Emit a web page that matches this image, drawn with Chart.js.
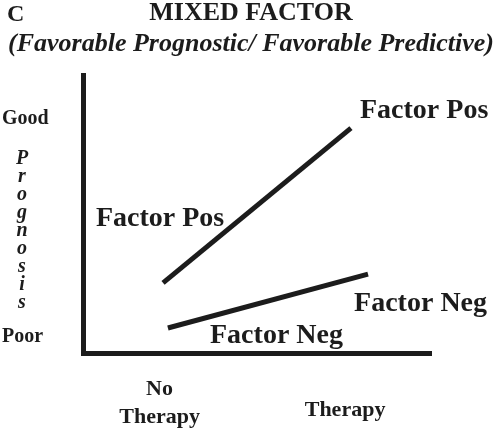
<!DOCTYPE html>
<html><head><meta charset="utf-8">
<script src="https://cdn.jsdelivr.net/npm/chart.js@4/dist/chart.umd.min.js"></script>
<style>html,body{margin:0;padding:0;background:#fff;}</style>
</head><body>
<canvas id="c" width="500" height="430"></canvas>
<script>
const panelLetter = 'C';
const chartTitle = 'MIXED FACTOR';
const chartSubtitle = '(Favorable Prognostic/ Favorable Predictive)';
const yAxisTitle = 'Prognosis';
const seriesNames = ['Factor Pos', 'Factor Neg'];
const factorPosX = [2.30, 7.70];
const factorPosY = [2.52, 8.09];
const factorNegX = [2.44, 8.19];
const factorNegY = [0.90, 2.84];
const xTickLabels = [['No', 'Therapy'], 'Therapy'];
const xTickValues = [2.20, 7.53];
const yTickLabels = ['Good', 'Poor'];
const yTickValues = [8.44, 0.59];

const INK = '#1c1c1c';
const SERIF = "'Liberation Serif', 'Times New Roman', serif";

const toPts = (xs, ys) => xs.map((x, i) => ({x: x, y: ys[i]}));

const textPlugin = {
  id: 'textPlugin',
  afterDraw(chart, args, opts) {
    const ctx = chart.ctx;
    const xs = chart.scales.x, ys = chart.scales.y;
    ctx.save();
    ctx.fillStyle = INK;
    // panel letter
    ctx.font = 'bold 24px ' + SERIF;
    ctx.textAlign = 'left';
    ctx.textBaseline = 'alphabetic';
    ctx.fillText(panelLetter, 7, 21);
    // stacked axis title
    ctx.font = 'italic bold 20px ' + SERIF;
    ctx.textAlign = 'center';
    const chars = yAxisTitle.split('');
    chars.forEach((ch, i) => ctx.fillText(ch, 22, 164 + i * 18));
    // series labels
    ctx.font = 'bold 28px ' + SERIF;
    ctx.textAlign = 'left';
    opts.labels.forEach(l => {
      ctx.fillText(l.text, xs.getPixelForValue(l.x), ys.getPixelForValue(l.y));
    });
    ctx.restore();
  }
};

new Chart(document.getElementById('c'), {
  type: 'scatter',
  data: {
    datasets: [
      {label: seriesNames[0], data: toPts(factorPosX, factorPosY), showLine: true,
       borderColor: INK, borderWidth: 5, pointRadius: 0, borderCapStyle: 'butt'},
      {label: seriesNames[1], data: toPts(factorNegX, factorNegY), showLine: true,
       borderColor: INK, borderWidth: 5, pointRadius: 0, borderCapStyle: 'butt'}
    ]
  },
  options: {
    responsive: false,
    animation: false,
    devicePixelRatio: 1,
    layout: {padding: {left: 2, right: 0, top: 0, bottom: 0}},
    plugins: {
      legend: {display: false},
      tooltip: {enabled: false},
      title: {display: true, text: chartTitle, color: INK,
        font: {family: SERIF, size: 26, weight: 'bold', lineHeight: 1},
        padding: {top: 0, bottom: 5}},
      subtitle: {display: true, text: chartSubtitle, color: INK,
        font: {family: SERIF, size: 26, weight: 'bold', style: 'italic', lineHeight: 1},
        padding: {top: 0, bottom: 18}},
      textPlugin: {
        labels: [
          {text: seriesNames[0], x: 0.37, y: 4.57},
          {text: seriesNames[0], x: 7.96, y: 8.45},
          {text: seriesNames[1], x: 7.79, y: 1.51},
          {text: seriesNames[1], x: 3.65, y: 0.36}
        ]
      }
    },
    scales: {
      x: {
        type: 'linear', position: 'bottom', min: 0, max: 10,
        grid: {display: false, drawTicks: false},
        border: {display: true, color: INK, width: 5},
        afterBuildTicks: s => { s.ticks = xTickValues.map(v => ({value: v})); },
        afterFit: s => { s.height = 77; },
        ticks: {
          autoSkip: false, maxRotation: 0, minRotation: 0, padding: 23, color: INK,
          font: c => ({family: SERIF, size: 22, weight: 'bold', lineHeight: c.index === 0 ? 1.25 : 3.14}),
          callback: (v, i) => xTickLabels[i]
        }
      },
      y: {
        type: 'linear', position: 'left', min: 0, max: 10,
        grid: {display: false, drawTicks: false},
        border: {display: true, color: INK, width: 5},
        afterBuildTicks: s => { s.ticks = yTickValues.map(v => ({value: v})); },
        afterFit: s => { s.width = 81; },
        ticks: {
          autoSkip: false, crossAlign: 'far', padding: 0, color: INK,
          font: {family: SERIF, size: 20, weight: 'bold'},
          callback: (v, i) => yTickLabels[i]
        }
      },
      y2: {
        type: 'linear', axis: 'y', position: 'right', display: true,
        grid: {display: false, drawTicks: false},
        border: {display: false},
        ticks: {display: false},
        afterFit: s => { s.width = 69; }
      }
    }
  },
  plugins: [textPlugin]
});
</script>
</body></html>
